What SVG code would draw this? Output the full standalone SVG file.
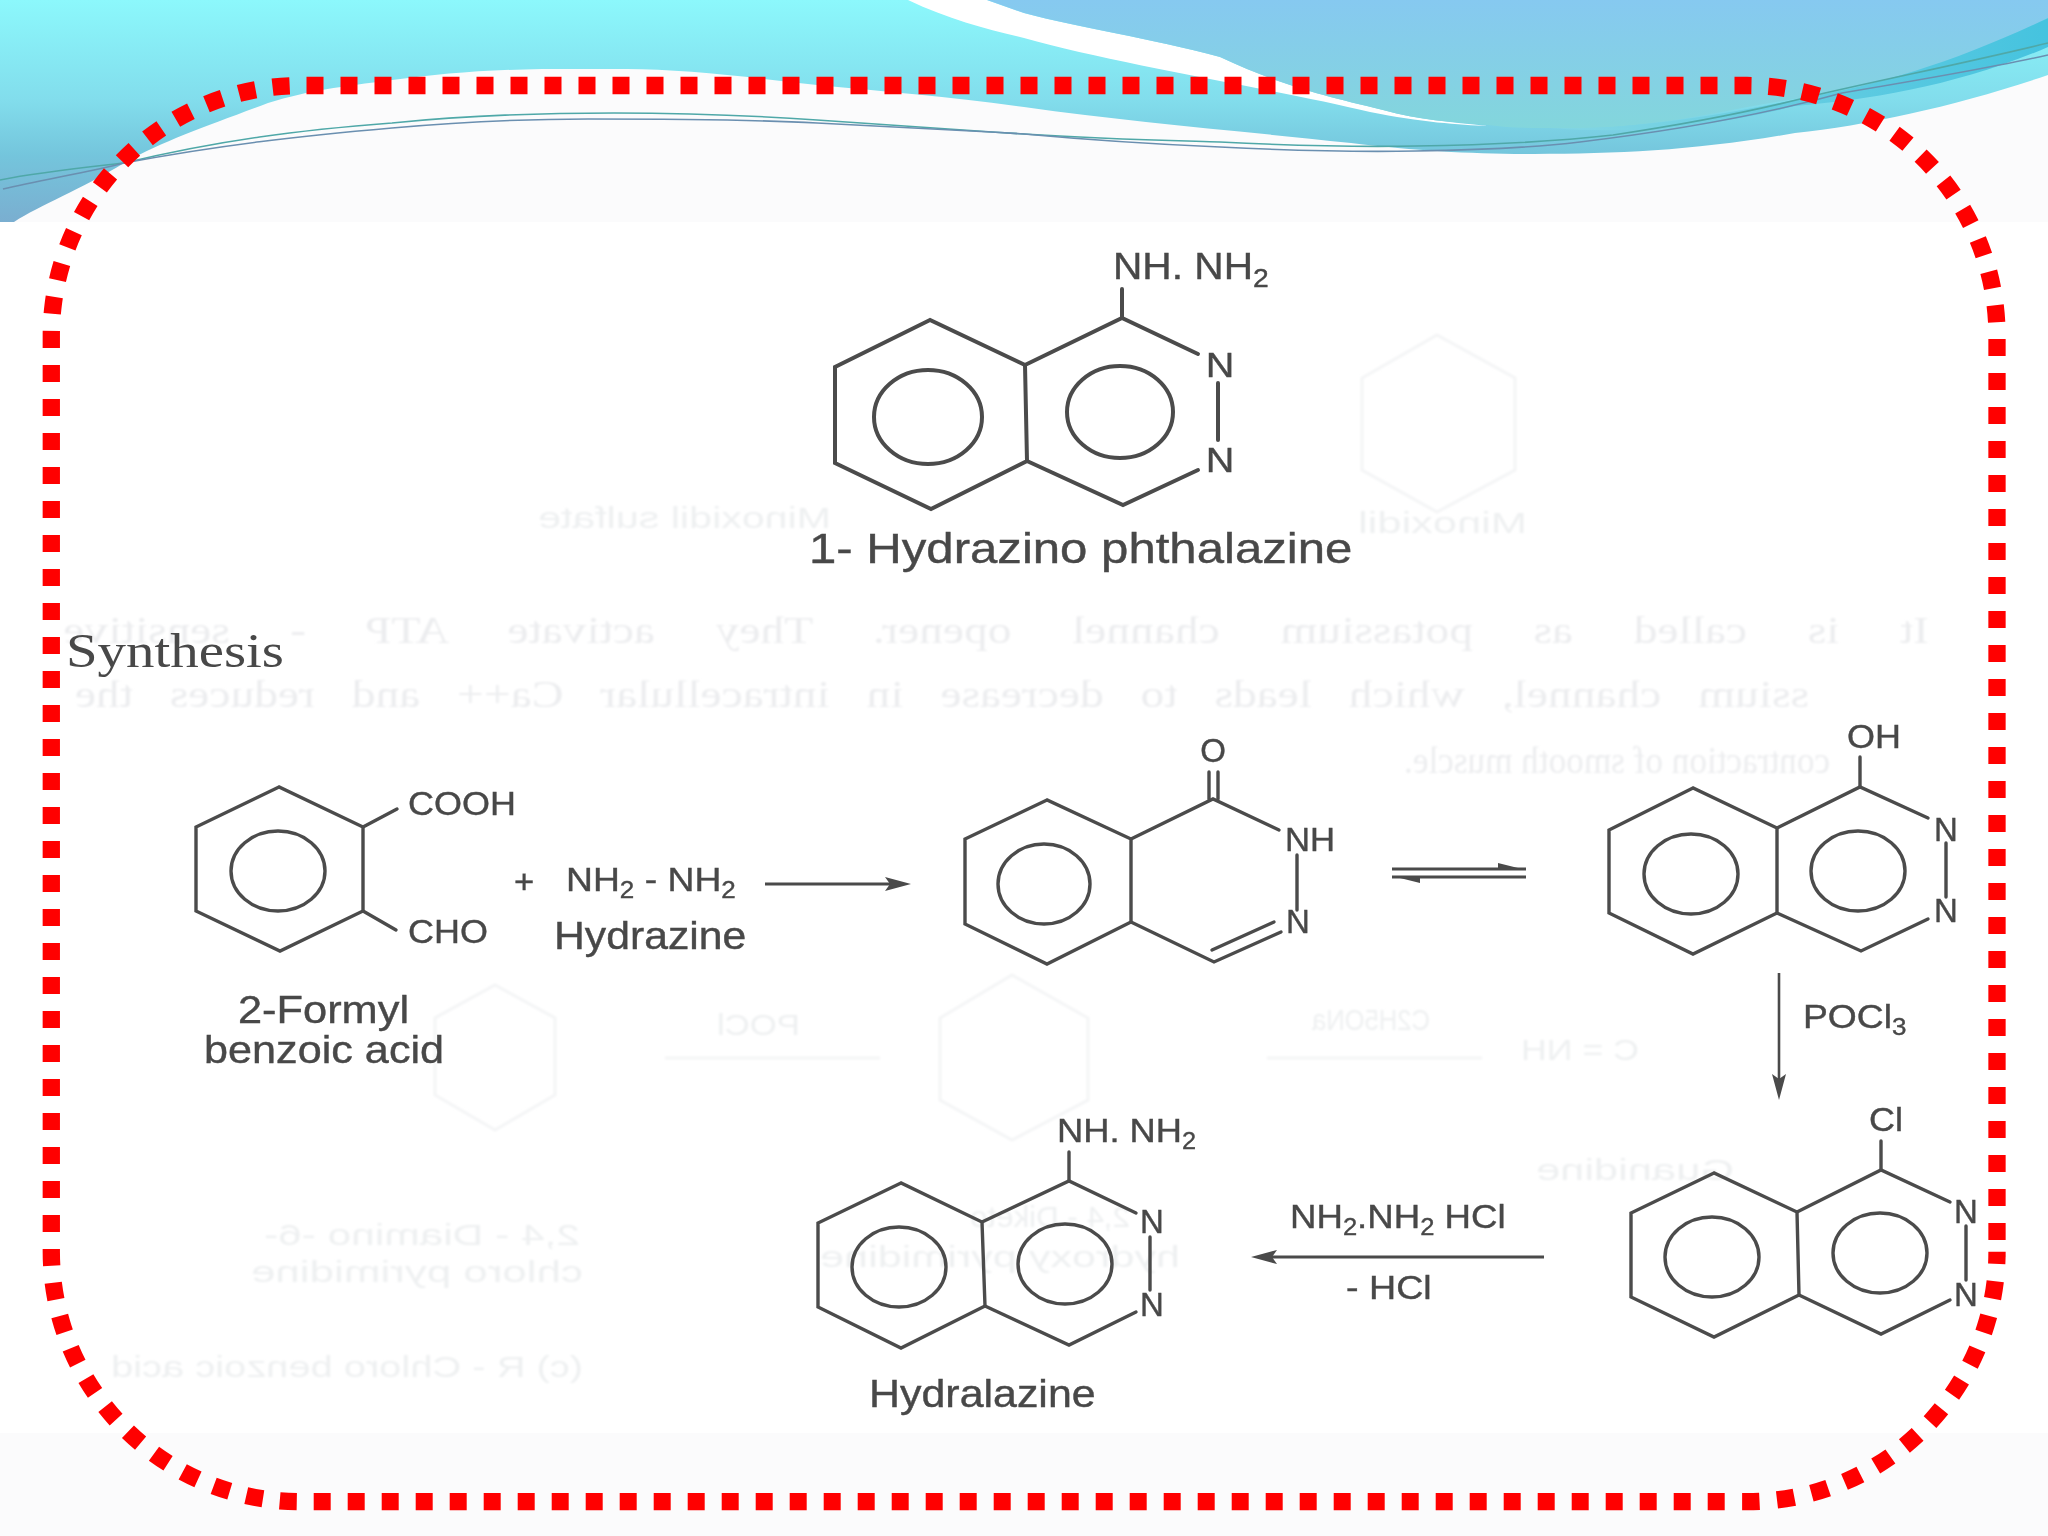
<svg xmlns="http://www.w3.org/2000/svg" width="2048" height="1536" viewBox="0 0 2048 1536">
<defs>
<style>
.b{fill:none;stroke:#4b4b4b;stroke-width:3.4;stroke-linejoin:miter;stroke-linecap:round}
.b4{stroke-width:4}
.t{font-family:"Liberation Sans",Arial,sans-serif;font-size:33px;fill:#484848;stroke:#484848;stroke-width:.4}
.l{font-size:38px}
.c{text-anchor:middle}
.sub{font-size:23px}
.g{font-family:"Liberation Serif","Times New Roman",serif;font-size:38px;fill:#ecedef}
.gs{font-family:"Liberation Sans",Arial,sans-serif;font-size:30px;fill:#eef0f1}
.gl{fill:none;stroke:#f4f5f6;stroke-width:3}
.d{fill:none;stroke:#ff0000;stroke-width:17.3}
.w{fill:none;stroke-width:1.6}
.a{fill:none;stroke:#4a4a4a;stroke-width:3.2}
</style>
<linearGradient id="teal" gradientUnits="userSpaceOnUse" x1="0" y1="0" x2="0" y2="222">
<stop offset="0" stop-color="#8cf8fc"/><stop offset=".45" stop-color="#82ddec"/><stop offset=".7" stop-color="#74c5dc"/><stop offset="1" stop-color="#7aaed0"/>
</linearGradient>
<linearGradient id="blue" gradientUnits="userSpaceOnUse" x1="0" y1="0" x2="0" y2="128">
<stop offset="0" stop-color="#86c9f0"/><stop offset="1" stop-color="#83d6dc"/>
</linearGradient>
<linearGradient id="band" gradientUnits="userSpaceOnUse" x1="1550" y1="0" x2="2048" y2="0">
<stop offset="0" stop-color="#84d6e4"/><stop offset="1" stop-color="#45c3df"/>
</linearGradient>
<filter id="soft" x="-5%" y="-5%" width="110%" height="110%"><feGaussianBlur stdDeviation="0.9"/></filter>
<marker id="head" markerUnits="userSpaceOnUse" viewBox="0 0 26 14" refX="16" refY="7" markerWidth="26" markerHeight="14" orient="auto">
<path d="M0 0L26 7L0 14L5 7Z" fill="#4a4a4a"/>
</marker>
</defs>

<g id="background">
<rect width="2048" height="1536" fill="#ffffff"/>
<rect width="2048" height="222" fill="#fbfbfc"/>
<rect y="1433" width="2048" height="103" fill="#fbfbfc"/>
<path d="M0 0H2048V75C1960 105 1870 125 1795 133C1700 150 1620 154 1534 154C1470 154 1420 151 1351 143C1230 130 1130 122 1024 107C950 97 890 92 817 85C750 77 680 69 627 69H542C480 70 440 74 392 80C340 87 310 90 268 103C210 125 165 140 124 163C80 190 40 205 14 222H0Z" fill="url(#teal)"/>
<path d="M908 0C950 20 990 30 1024 38C1120 65 1280 90 1370 112C1420 122 1460 125 1488 126C1450 122 1420 120 1383 110C1320 95 1280 85 1220 57C1150 38 1080 28 1024 13L987 0Z" fill="#ffffff"/>
<path d="M987 0H2048V18C1960 65 1880 90 1808 97C1750 105 1700 118 1651 123C1610 128 1590 129 1560 128C1530 128 1510 128 1488 125C1450 122 1420 120 1383 110C1320 95 1280 85 1220 57C1150 38 1080 28 1024 13Z" fill="url(#blue)"/>
<path d="M1550 128C1620 130 1700 120 1808 97C1880 85 1960 60 2048 18V47C1960 85 1870 100 1795 106C1720 125 1640 135 1550 128Z" fill="url(#band)"/>
<path class="w" stroke="#4fa8a8" d="M0 180C40 172 80 168 124 163C220 140 300 130 392 123C470 115 540 113 614 113C700 113 760 116 817 120C900 126 960 130 1024 134C1100 139 1150 140 1220 142C1300 146 1360 147 1416 146C1490 145 1550 142 1613 135C1680 125 1750 112 1808 97C1890 78 1970 62 2048 43"/>
<path class="w" stroke="#6a8fb0" d="M3 189C40 180 90 172 124 163C220 145 300 136 392 128C460 122 530 119 588 119C680 119 760 120 817 123C900 127 960 130 1024 134C1100 141 1150 144 1220 147C1300 151 1360 152 1416 151C1480 150 1530 148 1580 142C1680 130 1770 113 1842 93C1920 80 1990 68 2048 55"/>
</g>

<g id="bleed-through" filter="url(#soft)">
<text class="g" transform="translate(1929,643) scale(-1.25,1)" word-spacing="39">It is called as potassium channel opener. They activate ATP - sensitive</text>
<text class="g" transform="translate(1809,707) scale(-1.25,1)" word-spacing="20">ssium channel, which leads to decrease in intracellular Ca++ and reduces the</text>
<text class="g" transform="translate(1830,773) scale(-1,1)" textLength="426" lengthAdjust="spacingAndGlyphs">contraction of smooth muscle.</text>
<text class="gs" transform="translate(831,528) scale(-1,1)" textLength="293" lengthAdjust="spacingAndGlyphs">Minoxidil sulfate</text>
<text class="gs" transform="translate(1527,533) scale(-1,1)" textLength="169" lengthAdjust="spacingAndGlyphs">Minoxidil</text>
<text class="gs" transform="translate(1734,1180) scale(-1,1)" textLength="198" lengthAdjust="spacingAndGlyphs">Guanidine</text>
<text class="gs" transform="translate(580,1245) scale(-1,1)" textLength="316" lengthAdjust="spacingAndGlyphs">2,4 - Diamino -6-</text>
<text class="gs" transform="translate(583,1282) scale(-1,1)" textLength="332" lengthAdjust="spacingAndGlyphs">chloro pyrimidine</text>
<text class="gs" transform="translate(1130,1227) scale(-1,1)" textLength="160" lengthAdjust="spacingAndGlyphs">2,4 - Diketo</text>
<text class="gs" transform="translate(1180,1267) scale(-1,1)" textLength="360" lengthAdjust="spacingAndGlyphs">hydroxy pyrimidine</text>
<text class="gs" transform="translate(583,1377) scale(-1,1)" textLength="472" lengthAdjust="spacingAndGlyphs">(c) R - Chloro benzoic acid</text>
<text class="gs" transform="translate(800,1035) scale(-1,1)" textLength="83" lengthAdjust="spacingAndGlyphs">POCl</text>
<text class="gs" transform="translate(1430,1030) scale(-1,1)" textLength="118" lengthAdjust="spacingAndGlyphs">C2H5ONa</text>
<text class="gs" transform="translate(1639,1060) scale(-1,1)" textLength="118" lengthAdjust="spacingAndGlyphs">C = NH</text>
<polygon class="gl" points="1437,335 1515,378 1515,470 1437,512 1362,470 1362,378"/>
<polygon class="gl" points="1012,975 1088,1018 1088,1100 1012,1140 940,1100 940,1018"/>
<polygon class="gl" points="495,985 555,1018 555,1095 495,1130 435,1095 435,1018"/>
<path class="gl" d="M665 1058H880M1267 1058H1482"/>
</g>

<g id="mol-hydrazino-phthalazine">
<polygon class="b b4" points="930,320 835,367 835,463 931,509 1027,461 1025,365"/>
<polyline class="b b4" points="1025,365 1122,318 1198,354"/>
<polyline class="b b4" points="1027,461 1123,505 1198,470"/>
<path class="b b4" d="M1122 318V289M1218 383V440"/>
<ellipse class="b b4" cx="928" cy="417" rx="54" ry="47"/>
<ellipse class="b b4" cx="1120" cy="412" rx="53" ry="46"/>
<text class="t c" style="font-size:36px" transform="translate(1220,377) scale(1.1,1)">N</text>
<text class="t c" style="font-size:36px" transform="translate(1220,472) scale(1.1,1)">N</text>
<text class="t" style="font-size:36px" transform="translate(1113,279) scale(1.13,1)">NH. NH<tspan class="sub" style="font-size:25px" dy="8">2</tspan></text>
<text class="t" style="font-size:42px" transform="translate(809,563) scale(1.17,1)">1- Hydrazino phthalazine</text>
</g>

<g id="label-synthesis">
<text style="font-family:'Liberation Serif','Times New Roman',serif;font-size:48px;fill:#484848" transform="translate(66,667) scale(1.185,1)">Synthesis</text>
</g>

<g id="mol-formyl-benzoic-acid">
<polygon class="b" points="279,787 196,827 196,911 280,951 363,911 363,827"/>
<path class="b" d="M363 827L397 809M363 911L396 930"/>
<ellipse class="b" cx="278" cy="871" rx="47" ry="40"/>
<text class="t" transform="translate(408,815) scale(1.09,1)">COOH</text>
<text class="t" transform="translate(408,943) scale(1.09,1)">CHO</text>
<text class="t l" transform="translate(238,1023) scale(1.142,1)">2-Formyl</text>
<text class="t l" transform="translate(204,1063) scale(1.137,1)">benzoic acid</text>
</g>

<g id="reagent-hydrazine">
<text class="t" transform="translate(514,893) scale(1.05,1)">+</text>
<text class="t" transform="translate(566,891) scale(1.13,1)">NH<tspan class="sub" dy="7">2</tspan><tspan dy="-7"> - NH</tspan><tspan class="sub" dy="7">2</tspan></text>
<text class="t l" transform="translate(554,949) scale(1.124,1)">Hydrazine</text>
</g>

<g id="mol-phthalazinone">
<polygon class="b" points="1047,800 965,839 965,924 1047,964 1131,922 1131,839"/>
<polyline class="b" points="1131,839 1213,799 1279,830"/>
<polyline class="b" points="1131,922 1214,962 1281,932"/>
<path class="b" d="M1212 950L1274 922M1209 799V772M1218 799V772M1297 855V910"/>
<ellipse class="b" cx="1044" cy="884" rx="46" ry="40"/>
<text class="t c" transform="translate(1213,762) scale(1.0,1)">O</text>
<text class="t" transform="translate(1285,851) scale(1.05,1)">NH</text>
<text class="t c" transform="translate(1298,933) scale(1.0,1)">N</text>
</g>

<g id="mol-hydroxy-phthalazine">
<polygon class="b" points="1693,788 1609,830 1609,913 1693,954 1777,913 1777,828"/>
<polyline class="b" points="1777,828 1860,787 1928,818"/>
<polyline class="b" points="1777,913 1861,951 1928,919"/>
<path class="b" d="M1860 787V757M1946 843V897"/>
<ellipse class="b" cx="1691" cy="874" rx="47" ry="40"/>
<ellipse class="b" cx="1858" cy="871" rx="47" ry="40"/>
<text class="t" transform="translate(1847,748) scale(1.09,1)">OH</text>
<text class="t c" transform="translate(1946,841) scale(1.0,1)">N</text>
<text class="t c" transform="translate(1946,922) scale(1.0,1)">N</text>
</g>

<g id="mol-chloro-phthalazine">
<polygon class="b" points="1714,1173 1631,1213 1631,1297 1714,1337 1799,1295 1797,1212"/>
<polyline class="b" points="1797,1212 1881,1170 1950,1202"/>
<polyline class="b" points="1799,1295 1881,1334 1950,1300"/>
<path class="b" d="M1881 1170V1141M1966 1226V1280"/>
<ellipse class="b" cx="1712" cy="1257" rx="47" ry="40"/>
<ellipse class="b" cx="1880" cy="1253" rx="47" ry="40"/>
<text class="t" transform="translate(1869,1131) scale(1.09,1)">Cl</text>
<text class="t c" transform="translate(1966,1223) scale(1.0,1)">N</text>
<text class="t c" transform="translate(1966,1306) scale(1.0,1)">N</text>
</g>

<g id="mol-hydralazine">
<polygon class="b" points="901,1183 818,1223 818,1307 901,1348 985,1306 982,1222"/>
<polyline class="b" points="982,1222 1069,1181 1136,1213"/>
<polyline class="b" points="985,1306 1069,1345 1136,1312"/>
<path class="b" d="M1069 1181V1152M1150 1237V1290"/>
<ellipse class="b" cx="899" cy="1267" rx="47" ry="40"/>
<ellipse class="b" cx="1065" cy="1264" rx="47" ry="40"/>
<text class="t" transform="translate(1057,1142) scale(1.1,1)">NH. NH<tspan class="sub" dy="7">2</tspan></text>
<text class="t c" transform="translate(1152,1233) scale(1.0,1)">N</text>
<text class="t c" transform="translate(1152,1316) scale(1.0,1)">N</text>
<text class="t l" transform="translate(869,1407) scale(1.13,1)">Hydralazine</text>
</g>

<g id="connectors">
<line class="a" x1="765" y1="884" x2="901" y2="884" marker-end="url(#head)"/>
<path class="a" d="M1392 869H1526M1526 877H1392"/>
<path d="M1526 870L1498 863V870ZM1392 876L1420 883V876Z" fill="#4a4a4a"/>
<line class="a" style="stroke-width:2.6" x1="1779" y1="973" x2="1779" y2="1090" marker-end="url(#head)"/>
<line class="a" x1="1544" y1="1257" x2="1261" y2="1257" marker-end="url(#head)"/>
</g>

<g id="connector-labels">
<text class="t" transform="translate(1803,1028) scale(1.13,1)">POCl<tspan class="sub" dy="7">3</tspan></text>
<text class="t" transform="translate(1290,1228) scale(1.11,1)">NH<tspan class="sub" dy="7">2</tspan><tspan dy="-7">.NH</tspan><tspan class="sub" dy="7">2</tspan><tspan dy="-7"> HCl</tspan></text>
<text class="t" transform="translate(1346,1299) scale(1.14,1)">- HCl</text>
</g>

<g id="dotted-frame">
<path class="d" stroke-dasharray="17 17" d="M306.5 85.5H1717.5"/>
<path class="d" stroke-dasharray="17.03 17.03" d="M1734.5 85.5H1747A250 250 0 0 1 1997 335.5V339"/>
<path class="d" stroke-dasharray="17 17" d="M1997 339V1240"/>
<path class="d" stroke-dasharray="17.51 17.51" d="M1997 1257V1251.7A250 250 0 0 1 1747 1501.7H1724.7"/>
<path class="d" stroke-dasharray="17 17" d="M1724.7 1501.7H313.7"/>
<path class="d" stroke-dasharray="16.99 16.99" stroke-dashoffset="16.99" d="M313.7 1501.7H301.3A250 250 0 0 1 51.3 1251.7V1232"/>
<path class="d" stroke-dasharray="17 17" d="M51.3 1232V365"/>
<path class="d" stroke-dasharray="17.1 17.1" d="M51.3 348V335.5A250 250 0 0 1 301.3 85.5H306.5"/>
</g>
</svg>
